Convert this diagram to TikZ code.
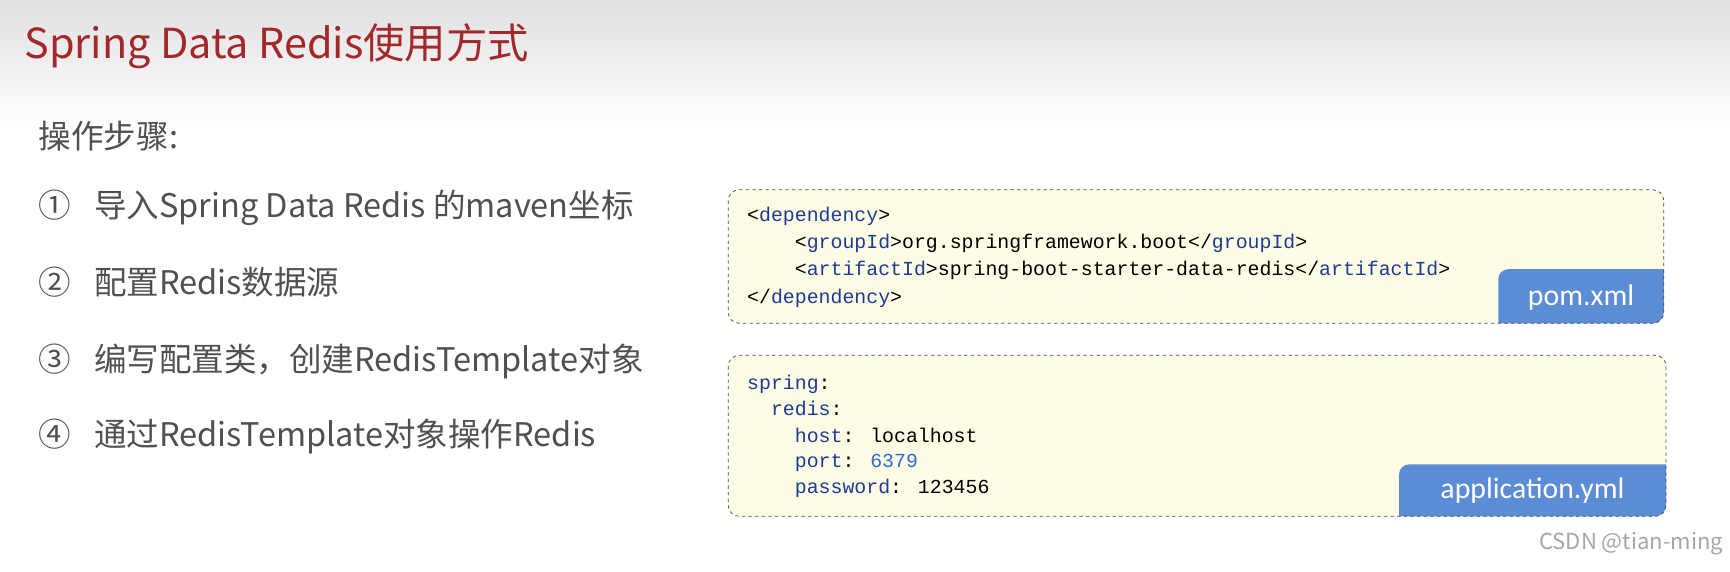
\documentclass[tikz,border=0pt]{standalone}
\usepackage{fontspec}
\setmainfont{Noto Sans CJK SC}
\newfontfamily\codefont{Liberation Mono}
\newfontfamily\tagfont{Carlito}
\definecolor{titlered}{HTML}{A3282B}
\definecolor{bodygray}{HTML}{505050}
\definecolor{boxfill}{HTML}{FDFDE6}
\definecolor{tagblue}{HTML}{5B8DD6}
\definecolor{kw}{HTML}{1F3A93}
\definecolor{num}{HTML}{2F6CCB}
\begin{document}
\begin{tikzpicture}[x=1pt,y=-1pt,
  title/.style={anchor=base west,inner sep=0,font=\fontsize{37.5}{42}\selectfont,text=titlered},
  item/.style={anchor=base west,inner sep=0,font=\fontsize{29.5}{33}\selectfont,text=bodygray},
  code/.style={anchor=base west,inner sep=0,font=\codefont\fontsize{18}{21}\selectfont},
  codebox/.style={draw=black!70,dashed,rounded corners=10pt,line width=0.7pt},
  tagtxt/.style={inner sep=0,text=white,font=\tagfont\fontsize{27}{30}\selectfont}]
\useasboundingbox (0,0) rectangle (1568,518);
\shade[top color=black!12,bottom color=white] (0,0) rectangle (1568,115);
\node[title] (t) at (22,53) {Spring Data Redis使用方式};
\node[item] (h) at (35,135) {操作步骤:};
\node[item] (n1) at (35,197) {①};
\node[item] (s1) at (85,197) {导入Spring Data Redis 的maven坐标};
\node[item] (n2) at (35,267) {②};
\node[item] (s2) at (85,267) {配置Redis数据源};
\node[item] (n3) at (35,337) {③};
\node[item] (s3) at (85,337) {编写配置类，创建RedisTemplate对象};
\node[item] (n4) at (35,405) {④};
\node[item] (s4) at (85,405) {通过RedisTemplate对象操作Redis};
% box 1
\fill[boxfill,rounded corners=10pt] (660,172) rectangle (1508,293);
\begin{scope}
\clip[rounded corners=10pt] (660,172) rectangle (1508,293);
\fill[tagblue,rounded corners=9pt] (1358,244) rectangle (1540,330);
\end{scope}
\draw[codebox] (660,172) rectangle (1508,293);
\node[tagtxt] (p) at (1433,270) {pom.xml};
\node[code] (c1) at (677,201) {<\textcolor{kw}{dependency}>};
\node[code] (c2) at (677,225) {\ \ \ \ <\textcolor{kw}{groupId}>org.springframework.boot</\textcolor{kw}{groupId}>};
\node[code] (c3) at (677,250) {\ \ \ \ <\textcolor{kw}{artifactId}>spring-boot-starter-data-redis</\textcolor{kw}{artifactId}>};
\node[code] (c4) at (677,275) {</\textcolor{kw}{dependency}>};
% box 2
\fill[boxfill,rounded corners=10pt] (660,322) rectangle (1510,468);
\begin{scope}
\clip[rounded corners=10pt] (660,322) rectangle (1510,468);
\fill[tagblue,rounded corners=9pt] (1268,421) rectangle (1540,500);
\end{scope}
\draw[codebox] (660,322) rectangle (1510,468);
\node[tagtxt] (a) at (1389,445) {application.yml};
\node[code] (y1) at (677,353) {\textcolor{kw}{spring}:};
\node[code] (y2) at (677,377) {\ \ \textcolor{kw}{redis}:};
\node[code] (y3) at (677,401) {\ \ \ \ \textcolor{kw}{host}: localhost};
\node[code] (y4) at (677,424) {\ \ \ \ \textcolor{kw}{port}: \textcolor{num}{6379}};
\node[code] (y5) at (677,447) {\ \ \ \ \textcolor{kw}{password}: 123456};
\node[anchor=base east,inner sep=0,text=black!35,font=\fontsize{20}{24}\selectfont] (w) at (1562,498) {CSDN @tian-ming};
\end{tikzpicture}
\end{document}
